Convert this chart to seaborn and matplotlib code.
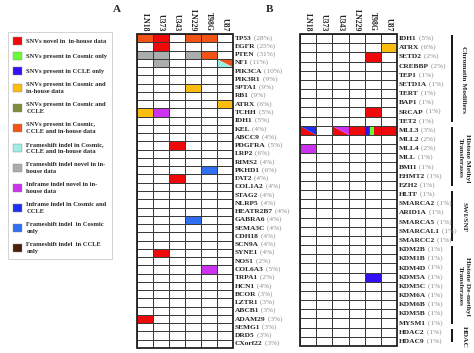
import numpy as np
import pandas as pd
import matplotlib
matplotlib.use("Agg")
import matplotlib.pyplot as plt
import matplotlib.transforms as mtransforms
from matplotlib.colors import ListedColormap
from matplotlib.patches import Patch, Polygon, Rectangle
import seaborn as sns

sns.set_style("white")
plt.rcParams['font.family'] = ['Liberation Serif', 'DejaVu Serif']

cell_lines = ["LN18", "U373", "U343", "LN229", "T98G", "U87"]

# legend categories 1..12 (0 = no mutation)
legend_labels = [
    "SNVs novel in  in-house data",
    "SNVs present in Cosmic only",
    "SNVs present in CCLE only",
    "SNVs present in Cosmic and\nin-house data",
    "SNVs present in Cosmic and\nCCLE",
    "SNVs present in Cosmic,\nCCLE and in-house data",
    "Frameshift indel in Cosmic,\nCCLE and in-house data",
    "Frameshift indel novel in in-\nhouse data",
    "Inframe indel novel in in-\nhouse data",
    "Inframe indel in Cosmic and\nCCLE",
    "Frameshift indel  in Cosmic\nonly",
    "Frameshift indel  in CCLE\nonly",
]
legend_colors = ["#ee0a0a", "#66ff33", "#3311f5", "#fbbd10", "#7f8d3a", "#f25418",
                 "#9eeee4", "#a9adad", "#cc33f0", "#1f2ff0", "#2f6ff2", "#4a200a"]

genes_a = ["TP53", "EGFR", "PTEN", "NF1", "PIK3CA", "PIK3R1", "SPTA1", "RB1", "ATRX",
           "TCHH", "IDH1", "KEL", "ABCC9", "PDGFRA", "LRP2", "RIMS2", "PKHD1", "FAT2",
           "COL1A2", "STAG2", "NLRP5", "HEATR2B7", "GABRA6", "SEMA3C", "CDH18", "SCN9A",
           "SYNE1", "NOS1", "COL6A3", "TRPA1", "HCN1", "BCOR", "LZTR1", "ABCB1", "ADAM29",
           "SEMG1", "DRD5", "CXorf22"]
pct_a = [28, 25, 31, 11, 10, 9, 9, 9, 6, 5, 5, 4, 4, 5, 6, 4, 6, 4, 4, 4, 4, 4, 4, 4,
         4, 4, 4, 2, 5, 2, 4, 3, 3, 3, 3, 3, 3, 3]
# (gene, cell line, category)
hits_a = [("TP53", "LN18", 6), ("TP53", "U373", 1), ("TP53", "LN229", 6), ("TP53", "T98G", 6),
          ("EGFR", "U373", 1),
          ("PTEN", "LN18", 8), ("PTEN", "U373", 8), ("PTEN", "LN229", 8), ("PTEN", "T98G", 6),
          ("NF1", "U373", 8), ("SPTA1", "LN229", 4), ("ATRX", "U87", 4),
          ("TCHH", "LN18", 4), ("TCHH", "U373", 9), ("PDGFRA", "U343", 1),
          ("PKHD1", "T98G", 11), ("FAT2", "U343", 1), ("GABRA6", "LN229", 11),
          ("SYNE1", "U373", 1), ("COL6A3", "T98G", 9), ("ADAM29", "LN18", 1)]
# cells with two calls: (gene, cell line, lower-left category, upper-right category)
split_a = [("NF1", "U87", 7, 6)]

genes_b = ["IDH1", "ATRX", "SETD2", "CREBBP", "TEP1", "SETD1A", "TERT", "BAP1", "SRCAP",
           "TET2", "MLL3", "MLL2", "MLL4", "MLL", "BMI1", "EHMT2", "EZH2", "HLTF",
           "SMARCA2", "ARID1A", "SMARCA5", "SMARCAL1", "SMARCC2", "KDM2B", "KDM1B",
           "KDM4D", "KDM5A", "KDM5C", "KDM6A", "KDM6B", "KDM5B", "MYSM1", "HDAC2", "HDAC9"]
pct_b = [5, 6, 2, 2, 1, 1, 1, 1, 1, 1, 3, 2, 2, 1, 1, 1, 1, 1, 1, 1, 1, 1, 1, 1, 1,
         1, 1, 1, 1, 1, 1, 1, 1, 1]
hits_b = [("ATRX", "U87", 4), ("SETD2", "T98G", 1), ("SRCAP", "T98G", 1),
          ("MLL3", "LN229", 1), ("MLL3", "U87", 1), ("MLL4", "LN18", 9),
          ("KDM5A", "T98G", 3)]
split_b = [("MLL3", "LN18", 1, 10), ("MLL3", "U343", 1, 9)]
# MLL3 in T98G: several calls shown as stripes (categories, share of the cell)
stripes_b = [("MLL3", "T98G", [3, 1, 2, 1], [0.27, 0.06, 0.27, 0.40])]

groups_b = [("Chromatin Modifiers", "IDH1", "TET2"),
            ("Histone Methyl\nTransferases", "MLL3", "EZH2"),
            ("SWI/SNF", "HLTF", "SMARCC2"),
            ("Histone De-methyl\nTransferases", "KDM2B", "MYSM1"),
            ("HDAC", "HDAC2", "HDAC9")]

cmap = ListedColormap(["white"] + legend_colors)
grid_col = "#3a3a3a"
fs = 5.3


def draw_panel(ax, genes, pct, hits, splits, stripes=()):
    mat = pd.DataFrame(0, index=genes, columns=cell_lines)
    for g, c, k in hits:
        mat.loc[g, c] = k
    sns.heatmap(mat, ax=ax, cmap=cmap, vmin=-0.5, vmax=12.5, cbar=False,
                linewidths=0.7, linecolor=grid_col, xticklabels=True, yticklabels=False)
    for g, c, lo, hi in splits:
        i, j = genes.index(g), cell_lines.index(c)
        ax.add_patch(Polygon([(j, i), (j, i + 1), (j + 1, i + 1)], closed=True,
                             facecolor=legend_colors[lo - 1], lw=0))
        ax.add_patch(Polygon([(j, i), (j + 1, i), (j + 1, i + 1)], closed=True,
                             facecolor=legend_colors[hi - 1], lw=0))
        ax.add_patch(Rectangle((j, i), 1, 1, fill=False, ec=grid_col, lw=0.7))
    for g, c, cats, shares in stripes:
        i, j = genes.index(g), cell_lines.index(c)
        x0 = j
        for k, s in zip(cats, shares):
            ax.add_patch(Rectangle((x0, i), s, 1, facecolor=legend_colors[k - 1], lw=0))
            x0 += s
        ax.add_patch(Rectangle((j, i), 1, 1, fill=False, ec=grid_col, lw=0.7))
    ax.add_patch(Rectangle((0, 0), len(cell_lines), len(genes), fill=False,
                           ec="#222222", lw=1.3, clip_on=False))
    ax.xaxis.tick_top()
    ax.set_xticklabels(cell_lines, rotation=-90, fontsize=fs + 0.3,
                       fontweight="bold", va="bottom", ha="center")
    ax.tick_params(axis="x", length=0, pad=2)
    ax.set_xlabel("")
    ax.set_ylabel("")
    for i, (g, p) in enumerate(zip(genes, pct)):
        t = ax.text(len(cell_lines) + 0.12, i + 0.5, g, fontsize=fs, fontweight="bold",
                    va="center", ha="left")
        ax.annotate(f" ({p}%)", xy=(1, 0), xycoords=t, fontsize=fs, color="#8a8a8a",
                    va="bottom", ha="left")


fig = plt.figure(figsize=(4.74, 3.53), dpi=100)
W, H = 474, 353
ax_a = fig.add_axes([137 / W, 1 - 348 / H, 96 / W, 314 / H])
ax_b = fig.add_axes([300 / W, 1 - 346 / H, 97 / W, 312 / H])

draw_panel(ax_a, genes_a, pct_a, hits_a, split_a)
draw_panel(ax_b, genes_b, pct_b, hits_b, split_b, stripes_b)

# group brackets on the right of panel B
tr = mtransforms.blended_transform_factory(ax_b.transAxes, ax_b.transData)
for name, g0, g1 in groups_b:
    i0, i1 = genes_b.index(g0), genes_b.index(g1) + 1
    ax_b.plot([1.567, 1.567], [i0 + 0.15, i1 - 0.4], color="black", lw=1.3,
              transform=tr, clip_on=False, solid_capstyle="butt")
    ax_b.text(1.69, (i0 + i1) / 2, name, rotation=-90, transform=tr, fontsize=fs,
              fontweight="bold", ha="center", va="center", linespacing=1.6)

fig.text(117 / W, 1 - 10 / H, "A", fontsize=8, fontweight="bold", ha="center", va="center")
fig.text(269 / W, 1 - 10 / H, "B", fontsize=8, fontweight="bold", ha="center", va="center")

lfs = 4.7
handles = [Patch(facecolor=c, edgecolor="#888888", lw=0.3) for c in legend_colors]
leg = fig.legend(handles, legend_labels, loc="upper left",
                 bbox_to_anchor=(8 / W, 1 - 32 / H), prop={"size": lfs, "weight": "bold"},
                 handlelength=1.45, handleheight=1.45, handletextpad=0.6,
                 labelspacing=1.1, borderpad=0.75, borderaxespad=0, frameon=True,
                 fancybox=False, edgecolor="#cccccc", framealpha=1)
leg.get_frame().set_linewidth(0.6)
for t in leg.get_texts():
    t.set_linespacing(1.7)

fig.savefig("out.png", dpi=100)
